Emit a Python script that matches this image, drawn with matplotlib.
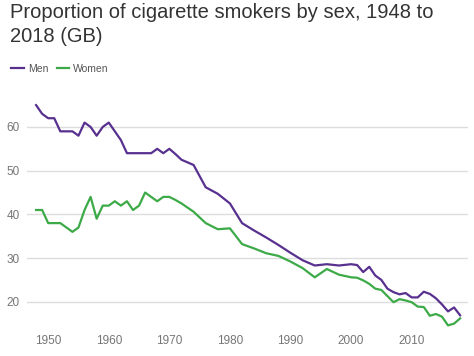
import matplotlib
matplotlib.use('Agg')
import matplotlib.pyplot as plt

years = list(range(1948, 1973)) + [1974, 1976, 1978, 1980, 1982, 1984, 1986, 1988,
                                   1990, 1992, 1994, 1996, 1998] + list(range(2000, 2019))

men = [65, 63, 62, 62, 59, 59, 59, 58, 61, 60, 58, 60, 61, 59, 57, 54, 54, 54, 54, 54,
       55, 54, 55, 53.8, 52.5,
       51.3, 46.2, 44.7, 42.5, 38, 36.3, 34.7, 33, 31.2, 29.5, 28.3, 28.6, 28.3,
       28.6, 28.4, 26.8, 28, 26, 25, 23, 22.2, 21.7, 22, 21, 21, 22.3, 21.8, 20.8,
       19.4, 17.8, 18.7, 16.9]

women = [41, 41, 38, 38, 38, 37, 36, 37, 41, 44, 39, 42, 42, 43, 42, 43, 41, 42, 45, 44,
         43, 44, 44, 43.3, 42.5,
         40.6, 38, 36.6, 36.8, 33.2, 32.2, 31.1, 30.5, 29.2, 27.7, 25.6, 27.5, 26.2,
         25.6, 25.5, 24.9, 24.1, 23, 22.7, 21.3, 19.9, 20.6, 20.3, 19.9, 18.9, 18.8,
         16.8, 17.2, 16.6, 14.6, 15, 16.2]

plt.rcParams['font.family'] = ['Liberation Sans', 'DejaVu Sans']

fig = plt.figure(figsize=(4.74, 3.56), dpi=100)
ax = fig.add_axes([27 / 474, 1 - 328 / 356, 441 / 474, 236 / 356])

l1, = ax.plot(years, men, color='#58308f', lw=1.6, label='Men')
l2, = ax.plot(years, women, color='#3daa48', lw=1.6, label='Women')

ax.set_xlim(1946.5, 2019.3)
ax.set_ylim(14, 68)
ax.set_xticks([1950, 1960, 1970, 1980, 1990, 2000, 2010])
ax.set_yticks([20, 30, 40, 50, 60])
ax.grid(axis='y', color='#dddddd', lw=1)
ax.set_axisbelow(True)
for s in ax.spines.values():
    s.set_visible(False)
ax.tick_params(length=0, labelsize=8.5, labelcolor='#757575', pad=5)

fig.text(10 / 474, 1 - 3 / 356, 'Proportion of cigarette smokers by sex, 1948 to\n2018 (GB)',
         fontsize=14.5, color='#333333', va='top', linespacing=1.35)
fig.legend(handles=[l1, l2], loc='center left', bbox_to_anchor=(2 / 474, 1 - 69 / 356),
           ncol=2, frameon=False, fontsize=7.5, labelcolor='#555555', handlelength=1.2,
           handletextpad=0.4, columnspacing=0.8)

fig.savefig('out.png', dpi=100)
